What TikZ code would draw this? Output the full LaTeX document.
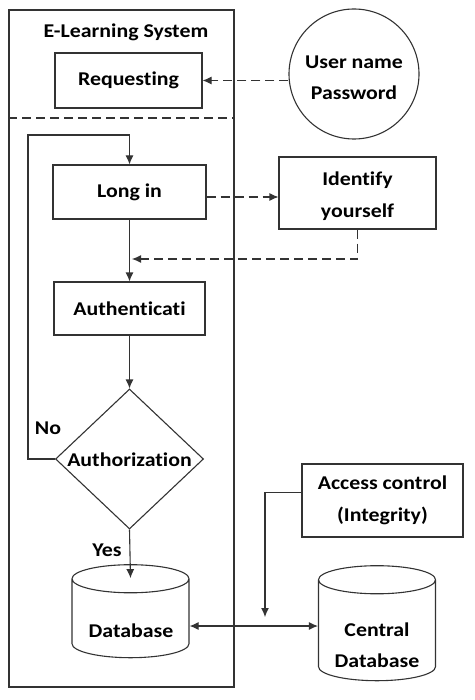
\documentclass[tikz,border=0pt]{standalone}
\usepackage{fontspec}
\setmainfont{Carlito}[FakeStretch=1.12, Ligatures=CommonOff]
\usetikzlibrary{arrows.meta,shapes.geometric}

\begin{document}
\begin{tikzpicture}[x=1pt, y=-1pt,
    font=\bfseries\fontsize{19.5}{31.5}\selectfont,
    linea/.style={line width=1.1pt, draw=black!80},
    blocco/.style={linea, rectangle, align=center, inner sep=0pt},
    freccia/.style={linea, -{Latex[length=9pt,width=8pt]}},
    doppia/.style={linea, {Latex[length=9pt,width=8pt]}-{Latex[length=9pt,width=8pt]}},
    tratteggio/.style={dash pattern=on 9pt off 5pt},
    archivio/.style={linea, cylinder, shape border rotate=90, aspect=0.24, inner sep=0pt, text width=117pt}]
        \useasboundingbox (0,0) rectangle (474,700);

        % Sistema
        \node[blocco, minimum width=225pt, minimum height=677pt] (sistema) at (121.5,348.5) {};
        \node (titolo) at (126,32) {E-Learning System};
        \coordinate (sep) at (0,118);
        \draw[linea, tratteggio] (sistema.west |- sep) -- (sistema.east |- sep);

        % Blocchi
        \node[blocco, minimum width=147pt, minimum height=55pt] (req) at (128.5,80.5) {Requesting};
        \node[linea, circle, minimum size=130pt, inner sep=0pt, label={[align=center, yshift=-4pt]center:User name\\Password}] (utente) at (354,74) {};
        \node[blocco, minimum width=153pt, minimum height=54pt] (login) at (129.5,192) {Long in};
        \node[blocco, minimum width=157pt, minimum height=72pt, label={[align=center, yshift=-3pt]center:Identify\\yourself}] (ident) at (357.5,193) {};
        \node[blocco, minimum width=151pt, minimum height=53pt] (authc) at (129.5,308.5) {Authenticati};
        \node[linea, diamond, minimum width=148pt, minimum height=140pt, inner sep=0pt, label={[yshift=-1pt]center:Authorization}] (autz) at (129.5,459) {};
        \node[blocco, minimum width=161pt, minimum height=73pt] (acc) at (382.5,500.5) {Access control\\(Integrity)};
        \node[archivio, minimum height=93pt] (base) at (130.5,618.5) {};
        \node (basetxt) at (131,631) {Database};
        \node[archivio, minimum height=115pt] (cdb) at (377,630.5) {};
        \node[align=center] (cdbtxt) at (377,645) {Central\\Database};

        % Etichette
        \node (no) at (48,428) {No};
        \node (yes) at (107,550) {Yes};

        % Frecce
        \coordinate (giro) at (28,135);
        \coordinate (rientro) at (132,259);
        \coordinate (bus) at (265,626);
        \draw[freccia, tratteggio] (utente.west |- req.east) -- (req.east);
        \draw[freccia, tratteggio] ([yshift=-5pt]login.east) -- ([yshift=-5pt]login.east -| ident.west);
        \draw[freccia, tratteggio] (ident.south) |- (rientro);
        \draw[freccia] (autz.west) -| (giro) -| (login.north);
        \draw[freccia] (login.south) -- (authc.north);
        \draw[freccia] (authc.south) -- (autz.north);
        \draw[freccia] (autz.south) -- ([yshift=-14pt]base.north);
        \draw[freccia] ([yshift=8pt]acc.west) -| ([yshift=9pt]bus);
        \draw[doppia] (base.east |- bus) -- (cdb.west |- bus);
    \end{tikzpicture}
\end{document}
